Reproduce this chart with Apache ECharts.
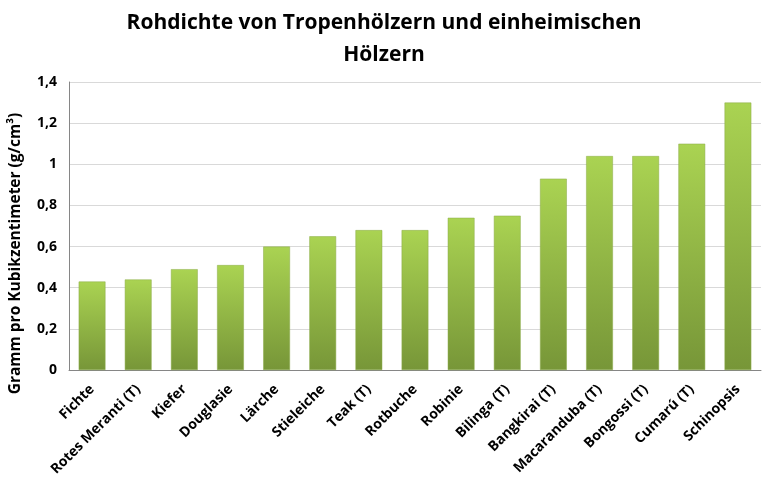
<!DOCTYPE html>
<html>
<head>
    <meta charset="utf-8">
    <title>Rohdichte</title>
    <script src="https://cdn.jsdelivr.net/npm/echarts@6/dist/echarts.min.js"></script>
    <style>
        body { margin: 0; background: #fff; }
    </style>
</head>
<body>
<div id="main" style="width: 768px;height:484px;"></div>
<script type="text/javascript">
    // Holzarten und Rohdichte (g/cm³)
    var hoelzer = ['Fichte', 'Rotes Meranti (T)', 'Kiefer', 'Douglasie', 'Lärche', 'Stieleiche', 'Teak (T)',
        'Rotbuche', 'Robinie', 'Bilinga (T)', 'Bangkirai (T)', 'Macaranduba (T)', 'Bongossi (T)', 'Cumarú (T)', 'Schinopsis'];
    var rohdichte = [0.43, 0.44, 0.49, 0.51, 0.60, 0.65, 0.68, 0.68, 0.74, 0.75, 0.93, 1.04, 1.04, 1.10, 1.30];

    var font = 'Open Sans';
    var myChart = echarts.init(document.getElementById('main'));

    myChart.setOption({
        animation: false,
        title: {
            text: 'Rohdichte von Tropenhölzern und einheimischen\nHölzern',
            left: 'center',
            top: 2,
            textStyle: {
                fontFamily: font,
                fontSize: 21,
                fontWeight: 'bold',
                color: '#000',
                lineHeight: 32
            }
        },
        grid: {
            left: 68,
            right: 7,
            top: 82,
            bottom: 114
        },
        xAxis: {
            type: 'category',
            data: hoelzer,
            axisLine: { lineStyle: { color: '#868686' } },
            axisTick: { show: false },
            axisLabel: {
                interval: 0,
                rotate: 45,
                margin: 17,
                fontFamily: font,
                fontSize: 14,
                fontWeight: 'bold',
                color: '#000'
            }
        },
        yAxis: {
            type: 'value',
            min: 0,
            max: 1.4,
            interval: 0.2,
            name: 'Gramm pro Kubikzentimeter (g/cm³)',
            nameLocation: 'middle',
            nameGap: 45,
            nameTextStyle: {
                fontFamily: font,
                fontSize: 15.5,
                fontWeight: 'bold',
                color: '#000',
                padding: [0, 55, 0, 0]
            },
            axisLine: { show: true, lineStyle: { color: '#868686' } },
            axisTick: { show: false },
            splitLine: { lineStyle: { color: '#d9d9d9' } },
            axisLabel: {
                margin: 12,
                fontFamily: font,
                fontSize: 14,
                fontWeight: 'bold',
                color: '#000',
                formatter: function (v) {
                    return String(Math.round(v * 10) / 10).replace('.', ',');
                }
            }
        },
        series: [{
            type: 'bar',
            data: rohdichte,
            barWidth: '58%',
            itemStyle: {
                color: new echarts.graphic.LinearGradient(0, 0, 0, 1, [
                    { offset: 0, color: '#aad352' },
                    { offset: 1, color: '#779638' }
                ]),
                borderColor: '#8aaa48',
                borderWidth: 0.5
            }
        }]
    });
</script>
</body>
</html>
